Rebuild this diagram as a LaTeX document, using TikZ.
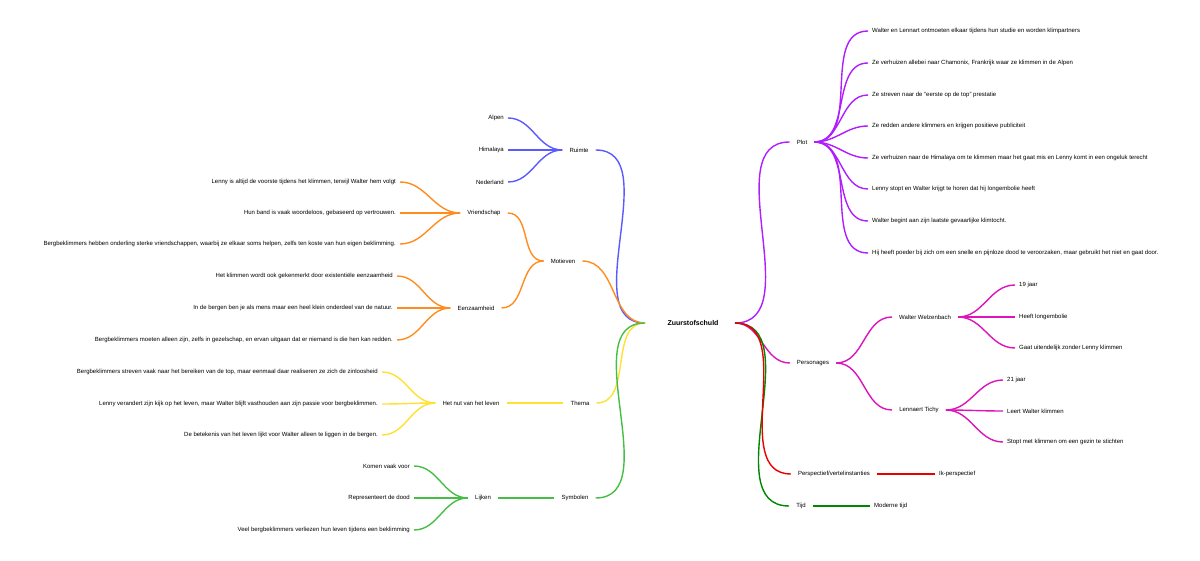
\documentclass[tikz,border=0pt]{standalone}
\usepackage{fontspec}
\setmainfont{Liberation Sans}
\begin{document}
\begin{tikzpicture}[x=1pt,y=-1pt,
  every node/.style={font=\fontsize{6}{7}\selectfont, inner ysep=1pt},
  mid/.style={inner xsep=7pt},
  L/.style={anchor=east, inner xsep=4pt},
  R/.style={anchor=west, inner xsep=4pt},
  kc/.style={line width=1.4pt, out=0, in=180},
  kb/.style={kc, draw={rgb,255:red,90;green,90;blue,255}},
  ko/.style={kc, draw={rgb,255:red,255;green,140;blue,30}},
  ky/.style={kc, draw={rgb,255:red,255;green,225;blue,50}},
  kg/.style={kc, draw={rgb,255:red,70;green,190;blue,70}},
  kp/.style={kc, draw={rgb,255:red,175;green,30;blue,255}},
  km/.style={kc, draw={rgb,255:red,220;green,20;blue,185}},
  kr/.style={kc, draw={rgb,255:red,235;green,0;blue,0}},
  kd/.style={kc, draw={rgb,255:red,0;green,135;blue,0}}]
\useasboundingbox (0,0) rectangle (1200,561);
\node[font=\fontsize{7}{8}\selectfont\bfseries] (root) at (693,323) {Zuurstofschuld};
\coordinate (rl) at (645,323);
\coordinate (rr) at (735,323);
% left side
\node[mid] (ruimte) at (579,150) {Ruimte};
\node[L] (alpen) at (508,118) {Alpen};
\node[L] (him) at (508,150) {Himalaya};
\node[L] (ned) at (508,182) {Nederland};
\node[mid] (mot) at (563,261) {Motieven};
\node[mid] (vri) at (484,213) {Vriendschap};
\node[mid] (een) at (476,308) {Eenzaamheid};
\node[L] (v1) at (400,182) {Lenny is altijd de voorste tijdens het klimmen, terwijl Walter hem volgt};
\node[L] (v2) at (400,213) {Hun band is vaak woordeloos, gebaseerd op vertrouwen.};
\node[L] (v3) at (400,244) {Bergbeklimmers hebben onderling sterke vriendschappen, waarbij ze elkaar soms helpen, zelfs ten koste van hun eigen beklimming.};
\node[L] (e1) at (397,276) {Het klimmen wordt ook gekenmerkt door existenti\"ele eenzaamheid};
\node[L] (e2) at (397,308) {In de bergen ben je als mens maar een heel klein onderdeel van de natuur.};
\node[L] (e3) at (397,340) {Bergbeklimmers moeten alleen zijn, zelfs in gezelschap, en ervan uitgaan dat er niemand is die hen kan redden.};
\node[mid] (thema) at (580,403) {Thema};
\node[mid] (nut) at (471,403) {Het nut van het leven};
\node[L] (n1) at (382,372) {Bergbeklimmers streven vaak naar het bereiken van de top, maar eenmaal daar realiseren ze zich de zinloosheid};
\node[L] (n2) at (382,404) {Lenny verandert zijn kijk op het leven, maar Walter blijft vasthouden aan zijn passie voor bergbeklimmen.};
\node[L] (n3) at (382,435) {De betekenis van het leven lijkt voor Walter alleen te liggen in de bergen.};
\node[mid] (sym) at (575,498) {Symbolen};
\node[mid] (lijk) at (483,498) {Lijken};
\node[L] (l1) at (414,466) {Komen vaak voor};
\node[L] (l2) at (414,498) {Representeert de dood};
\node[L] (l3) at (414,530) {Veel bergbeklimmers verliezen hun leven tijdens een beklimming};
\draw[kb] (ruimte.east) to (rl);
\foreach \n in {alpen,him,ned} \draw[kb] (\n.east) to (ruimte.west);
\draw[ko] (mot.east) to (rl);
\draw[ko] (vri.east) to (mot.west);
\draw[ko] (een.east) to (mot.west);
\foreach \n in {v1,v2,v3} \draw[ko] (\n.east) to (vri.west);
\foreach \n in {e1,e2,e3} \draw[ko] (\n.east) to (een.west);
\draw[ky] (thema.east) to (rl);
\draw[ky] (nut.east) to (thema.west);
\foreach \n in {n1,n2,n3} \draw[ky] (\n.east) to (nut.west);
\draw[kg] (sym.east) to (rl);
\draw[kg] (lijk.east) to (sym.west);
\foreach \n in {l1,l2,l3} \draw[kg] (\n.east) to (lijk.west);
% right side
\node[mid] (plot) at (802,142) {Plot};
\node[R] (p1) at (868,31) {Walter en Lennart ontmoeten elkaar tijdens hun studie en worden klimpartners};
\node[R] (p2) at (868,63) {Ze verhuizen allebei naar Chamonix, Frankrijk waar ze klimmen in de Alpen};
\node[R] (p3) at (868,95) {Ze streven naar de "eerste op de top" prestatie};
\node[R] (p4) at (868,126) {Ze redden andere klimmers en krijgen positieve publiciteit};
\node[R] (p5) at (868,158) {Ze verhuizen naar de Himalaya om te klimmen maar het gaat mis en Lenny komt in een ongeluk terecht};
\node[R] (p6) at (868,189) {Lenny stopt en Walter krijgt te horen dat hij longembolie heeft};
\node[R] (p7) at (868,221) {Walter begint aan zijn laatste gevaarlijke klimtocht.};
\node[R] (p8) at (868,253) {Hij heeft poeder bij zich om een snelle en pijnloze dood te veroorzaken, maar gebruikt het niet en gaat door.};
\node[mid] (pers) at (813,363) {Personages};
\node[mid] (ww) at (925,317) {Walter Welzenbach};
\node[mid] (lt) at (919,410) {Lennaert Tichy};
\node[R] (w1) at (1015,285) {19 jaar};
\node[R] (w2) at (1015,317) {Heeft longembolie};
\node[R] (w3) at (1015,348) {Gaat uitendelijk zonder Lenny klimmen};
\node[R] (t1) at (1003,380) {21 jaar};
\node[R] (t2) at (1003,411) {Leert Walter klimmen};
\node[R] (t3) at (1003,442) {Stopt met klimmen om een gezin te stichten};
\node[mid] (persp) at (834,474) {Perspectief/vertelinstanties};
\node[R] (ik) at (935,474) {Ik-perspectief};
\node[mid] (tijd) at (801,506) {Tijd};
\node[R] (mod) at (870,506) {Moderne tijd};
\draw[kp] (rr) to (plot.west);
\foreach \n in {p1,p2,p3,p4,p5,p6,p7,p8} \draw[kp] (plot.east) to (\n.west);
\draw[km] (rr) to (pers.west);
\draw[km] (pers.east) to (ww.west);
\draw[km] (pers.east) to (lt.west);
\foreach \n in {w1,w2,w3} \draw[km] (ww.east) to (\n.west);
\foreach \n in {t1,t2,t3} \draw[km] (lt.east) to (\n.west);
\draw[kd] (rr) to (tijd.west);
\draw[kr] (rr) to (persp.west);
\draw[kr] (persp.east) to (ik.west);
\draw[kd] (tijd.east) to (mod.west);
\end{tikzpicture}
\end{document}
